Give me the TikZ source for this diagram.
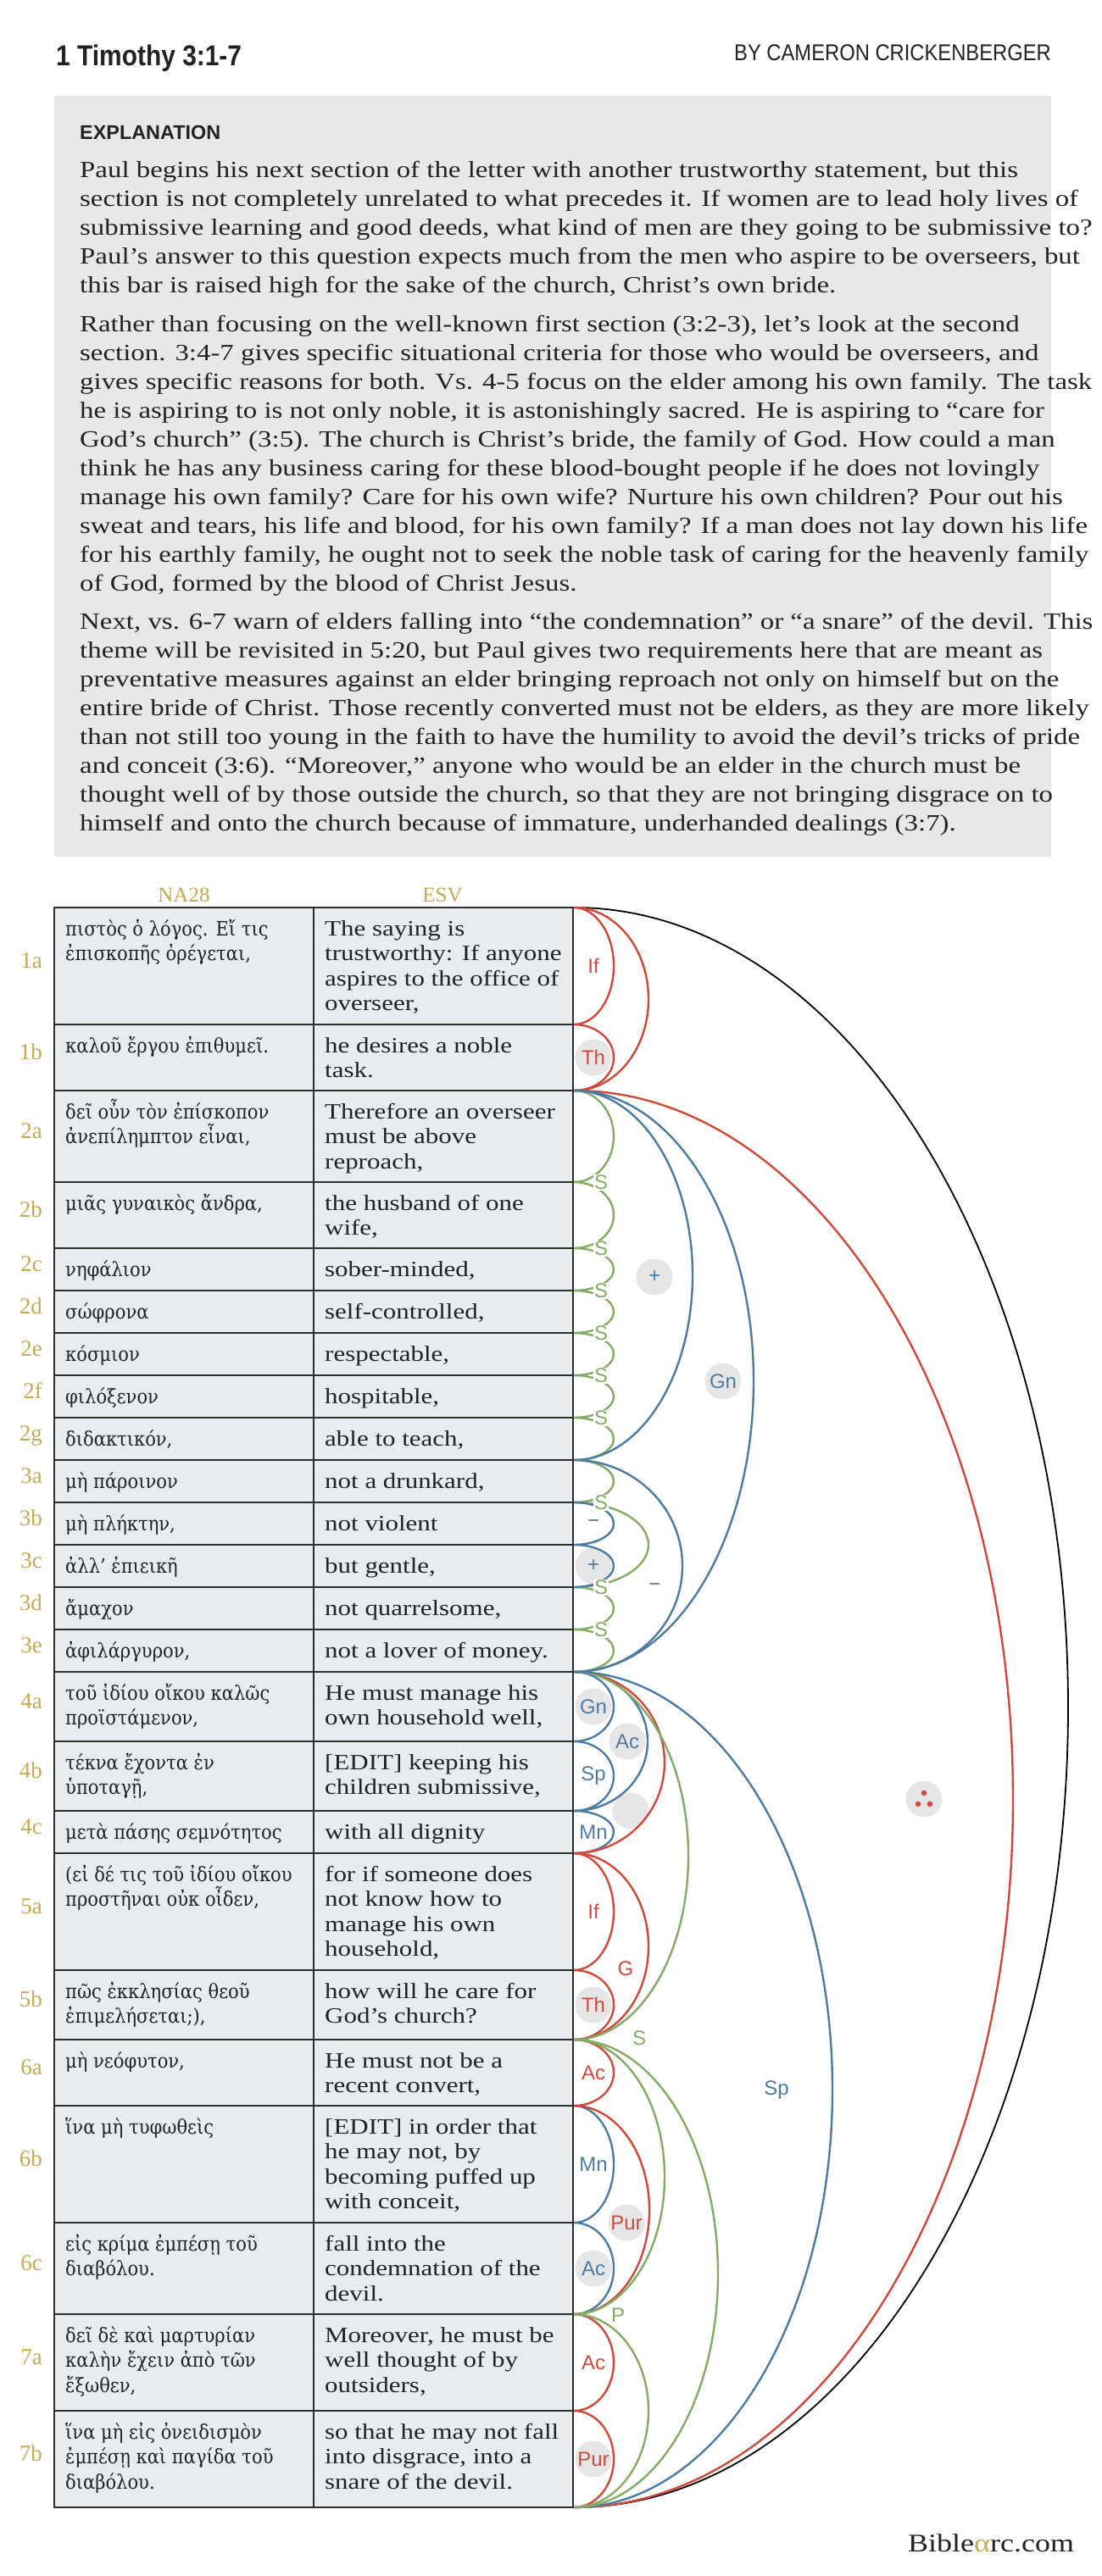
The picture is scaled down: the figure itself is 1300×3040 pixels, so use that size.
\documentclass[tikz,border=0pt]{standalone}
\usepackage{fontspec}
\setmainfont{Liberation Serif}[FakeStretch=1.2]
\newfontfamily\vfont{Liberation Serif}
\newfontfamily\grk{DejaVu Serif}[FakeStretch=0.9]
\newfontfamily\sansf{Liberation Sans}
\newfontfamily\headsans{Liberation Sans}[FakeStretch=0.88]
\usetikzlibrary{calc}
\definecolor{arcred}{RGB}{206,74,60}
\definecolor{arcblue}{RGB}{78,124,160}
\definecolor{arcgreen}{RGB}{132,172,102}
\definecolor{gold}{RGB}{196,170,84}
\definecolor{boxgray}{RGB}{232,232,232}
\definecolor{cellfill}{RGB}{231,236,241}
\definecolor{rulec}{RGB}{45,45,45}
\definecolor{bubble}{RGB}{230,230,230}
\definecolor{txt}{RGB}{34,34,34}
\newcommand{\lines}[1]{\vtop{\halign{##\hfil\cr#1\crcr}}}
\newcommand{\harc}[4]{%
  \draw[#1] let \p1=(#2), \p2=(#3), \n1={(\y2-\y1)/2} in
  (\p1) .. controls ({\x1+0.5523*#4},{\y1}) and ({\x1+#4},{\y1+0.4477*\n1}) .. ({\x1+#4},{\y1+\n1})
        .. controls ({\x1+#4},{\y1+1.5523*\n1}) and ({\x1+0.5523*#4},{\y2}) .. (\p2);}
\newcommand{\trow}[6]{%
  \node[verse] (v#1) at (50,{(#2+#3)/2}) {#4};
  \node[grk] (g#1) at (77,#2+33) {\lines{#5}};
  \node[eng] (e#1) at (383,#2+33) {\lines{#6}};
  \draw[tabrule] (64,#3) -- (676,#3);}
\tikzset{
  arcR/.style={draw=arcred, line width=2.4pt},
  arcB/.style={draw=arcblue, line width=2.4pt},
  arcG/.style={draw=arcgreen, line width=2.4pt},
  arcK/.style={draw=black, line width=1.8pt},
  lab/.style={inner sep=0pt, font=\sansf\fontsize{24}{24}\selectfont},
  slab/.style={lab, text=arcgreen, fill=white, inner sep=1pt},
  verse/.style={anchor=mid east, inner sep=0pt, text=gold, font=\vfont\fontsize{27}{27}\selectfont},
  grk/.style={anchor=base west, inner sep=0pt, text=txt, font=\grk\fontsize{23.4}{29.5}\selectfont},
  eng/.style={anchor=base west, inner sep=0pt, text=txt, font=\fontsize{25.8}{29.5}\selectfont},
  para/.style={anchor=base west, inner sep=0pt, text=txt, font=\fontsize{27.4}{34}\selectfont},
  tabrule/.style={draw=rulec, line width=2.5pt},
  colhead/.style={anchor=base, inner sep=0pt, text=gold, font=\vfont\fontsize{25}{25}\selectfont},
}
\begin{document}
\begin{tikzpicture}[x=1pt,y=-1pt]
\useasboundingbox (0,0) rectangle (1300,3040);
\fill[white] (0,0) rectangle (1300,3040);
% header
\node[anchor=base west, inner sep=0pt, text=txt, font=\headsans\bfseries\fontsize{34}{34}\selectfont] (title) at (66,78) {1 Timothy 3:1-7};
\node[anchor=base east, inner sep=0pt, text=txt, font=\headsans\fontsize{27}{27}\selectfont] (byline) at (1240,72) {BY CAMERON CRICKENBERGER};
% explanation box
\fill[boxgray] (64,113) rectangle (1240,1011);
\node[anchor=base west, inner sep=0pt, text=txt, font=\sansf\bfseries\fontsize{23.4}{23.4}\selectfont] (exh) at (94,165) {EXPLANATION};
\node[para] (p1) at (94,210) {\lines{%
Paul begins his next section of the letter with another trustworthy statement, but this\cr
section is not completely unrelated to what precedes it. If women are to lead holy lives of\cr
submissive learning and good deeds, what kind of men are they going to be submissive to?\cr
Paul’s answer to this question expects much from the men who aspire to be overseers, but\cr
this bar is raised high for the sake of the church, Christ’s own bride.}};
\node[para] (p2) at (94,391) {\lines{%
Rather than focusing on the well-known first section (3:2-3), let’s look at the second\cr
section. 3:4-7 gives specific situational criteria for those who would be overseers, and\cr
gives specific reasons for both. Vs. 4-5 focus on the elder among his own family. The task\cr
he is aspiring to is not only noble, it is astonishingly sacred. He is aspiring to “care for\cr
God’s church” (3:5). The church is Christ’s bride, the family of God. How could a man\cr
think he has any business caring for these blood-bought people if he does not lovingly\cr
manage his own family? Care for his own wife? Nurture his own children? Pour out his\cr
sweat and tears, his life and blood, for his own family? If a man does not lay down his life\cr
for his earthly family, he ought not to seek the noble task of caring for the heavenly family\cr
of God, formed by the blood of Christ Jesus.}};
\node[para] (p3) at (94,742) {\lines{%
Next, vs. 6-7 warn of elders falling into “the condemnation” or “a snare” of the devil. This\cr
theme will be revisited in 5:20, but Paul gives two requirements here that are meant as\cr
preventative measures against an elder bringing reproach not only on himself but on the\cr
entire bride of Christ. Those recently converted must not be elders, as they are more likely\cr
than not still too young in the faith to have the humility to avoid the devil’s tricks of pride\cr
and conceit (3:6). “Moreover,” anyone who would be an elder in the church must be\cr
thought well of by those outside the church, so that they are not bringing disgrace on to\cr
himself and onto the church because of immature, underhanded dealings (3:7).}};
% table headers
\node[colhead] (hna) at (217,1064) {NA28};
\node[colhead] (hesv) at (522,1064) {ESV};
% table
\fill[cellfill] (64,1071) rectangle (676,2959);
\trow{1a}{1071}{1209}{1a}{πιστὸς ὁ λόγος. Εἴ τις\cr ἐπισκοπῆς ὀρέγεται,}{The saying is\cr trustworthy: If anyone\cr aspires to the office of\cr overseer,}
\trow{1b}{1209}{1287}{1b}{καλοῦ ἔργου ἐπιθυμεῖ.}{he desires a noble\cr task.}
\trow{2a}{1287}{1395}{2a}{δεῖ οὖν τὸν ἐπίσκοπον\cr ἀνεπίλημπτον εἶναι,}{Therefore an overseer\cr must be above\cr reproach,}
\trow{2b}{1395}{1473}{2b}{μιᾶς γυναικὸς ἄνδρα,}{the husband of one\cr wife,}
\trow{2c}{1473}{1523}{2c}{νηφάλιον}{sober-minded,}
\trow{2d}{1523}{1573}{2d}{σώφρονα}{self-controlled,}
\trow{2e}{1573}{1623}{2e}{κόσμιον}{respectable,}
\trow{2f}{1623}{1673}{2f}{φιλόξενον}{hospitable,}
\trow{2g}{1673}{1723}{2g}{διδακτικόν,}{able to teach,}
\trow{3a}{1723}{1773}{3a}{μὴ πάροινον}{not a drunkard,}
\trow{3b}{1773}{1823}{3b}{μὴ πλήκτην,}{not violent}
\trow{3c}{1823}{1873}{3c}{ἀλλ’ ἐπιεικῆ}{but gentle,}
\trow{3d}{1873}{1923}{3d}{ἄμαχον}{not quarrelsome,}
\trow{3e}{1923}{1973}{3e}{ἀφιλάργυρον,}{not a lover of money.}
\trow{4a}{1973}{2055}{4a}{τοῦ ἰδίου οἴκου καλῶς\cr προϊστάμενον,}{He must manage his\cr own household well,}
\trow{4b}{2055}{2137}{4b}{τέκνα ἔχοντα ἐν\cr ὑποταγῇ,}{[EDIT] keeping his\cr children submissive,}
\trow{4c}{2137}{2187}{4c}{μετὰ πάσης σεμνότητος}{with all dignity}
\trow{5a}{2187}{2325}{5a}{(εἰ δέ τις τοῦ ἰδίου οἴκου\cr προστῆναι οὐκ οἶδεν,}{for if someone does\cr not know how to\cr manage his own\cr household,}
\trow{5b}{2325}{2407}{5b}{πῶς ἐκκλησίας θεοῦ\cr ἐπιμελήσεται;),}{how will he care for\cr God’s church?}
\trow{6a}{2407}{2485}{6a}{μὴ νεόφυτον,}{He must not be a\cr recent convert,}
\trow{6b}{2485}{2623}{6b}{ἵνα μὴ τυφωθεὶς}{[EDIT] in order that\cr he may not, by\cr becoming puffed up\cr with conceit,}
\trow{6c}{2623}{2731}{6c}{εἰς κρίμα ἐμπέσῃ τοῦ\cr διαβόλου.}{fall into the\cr condemnation of the\cr devil.}
\trow{7a}{2731}{2845}{7a}{δεῖ δὲ καὶ μαρτυρίαν\cr καλὴν ἔχειν ἀπὸ τῶν\cr ἔξωθεν,}{Moreover, he must be\cr well thought of by\cr outsiders,}
\trow{7b}{2845}{2959}{7b}{ἵνα μὴ εἰς ὀνειδισμὸν\cr ἐμπέσῃ καὶ παγίδα τοῦ\cr διαβόλου.}{so that he may not fall\cr into disgrace, into a\cr snare of the devil.}
\draw[tabrule] (370,1071) -- (370,2959);
\draw[tabrule] (64,1071) rectangle (676,2959);
% boundary coordinates
\foreach \n/\yy in {0/1071,1/1209,2/1287,3/1395,4/1473,5/1523,6/1573,7/1623,8/1673,9/1723,10/1773,11/1823,12/1873,13/1923,14/1973,15/2055,16/2137,17/2187,18/2325,19/2407,20/2485,21/2623,22/2731,23/2845,24/2959}
  \coordinate (b\n) at (677,\yy);
% bubbles
\foreach \bx/\by in {700/1248,772/1507,853/1630,700/1848,700/2014,740/2055,744/2137,1090/2123,700/2366,739/2623,700/2677,700/2902}
  \fill[bubble] (\bx,\by) circle[radius=21.5pt];
% arcs
\harc{arcK}{b0}{b24}{583}
\harc{arcR}{b0}{b1}{47}
\harc{arcR}{b1}{b2}{47}
\harc{arcR}{b0}{b2}{88}
\harc{arcR}{b2}{b24}{518}
\harc{arcG}{b2}{b3}{47}
\harc{arcG}{b3}{b4}{47}
\harc{arcG}{b4}{b5}{47}
\harc{arcG}{b5}{b6}{47}
\harc{arcG}{b6}{b7}{47}
\harc{arcG}{b7}{b8}{47}
\harc{arcG}{b8}{b9}{47}
\harc{arcB}{b2}{b9}{140}
\harc{arcB}{b2}{b14}{212}
\harc{arcG}{b9}{b10}{47}
\harc{arcG}{b10}{b12}{88}
\harc{arcG}{b12}{b13}{47}
\harc{arcG}{b13}{b14}{47}
\harc{arcB}{b10}{b11}{47}
\harc{arcB}{b11}{b12}{47}
\harc{arcB}{b9}{b14}{128}
\harc{arcB}{b14}{b15}{47}
\harc{arcB}{b15}{b16}{47}
\harc{arcB}{b14}{b16}{87}
\harc{arcB}{b16}{b17}{47}
\harc{arcR}{b14}{b17}{107}
\harc{arcR}{b17}{b18}{47}
\harc{arcR}{b18}{b19}{47}
\harc{arcR}{b17}{b19}{88}
\harc{arcG}{b14}{b19}{135}
\harc{arcB}{b14}{b24}{305}
\harc{arcR}{b19}{b20}{47}
\harc{arcB}{b20}{b21}{47}
\harc{arcB}{b21}{b22}{47}
\harc{arcR}{b20}{b22}{89}
\harc{arcG}{b19}{b22}{107}
\harc{arcR}{b22}{b23}{47}
\harc{arcR}{b23}{b24}{47}
\harc{arcG}{b22}{b24}{88}
\harc{arcG}{b19}{b24}{170}
% therefore dots
\fill[arcred] (1090,2116) circle[radius=3.3pt];
\fill[arcred] (1083,2129) circle[radius=3.3pt];
\fill[arcred] (1097,2129) circle[radius=3.3pt];
% labels
\node[lab, text=arcred] (lIf1) at (700,1140) {If};
\node[lab, text=arcred] (lTh1) at (700,1248) {Th};
\node[lab, text=arcblue] (lPl1) at (772,1507) {+};
\node[lab, text=arcblue] (lGn1) at (853,1630) {Gn};
\node[lab, text=arcblue] (lMi1) at (700,1798) {−};
\node[lab, text=arcblue] (lPl2) at (700,1848) {+};
\node[lab, text=arcblue] (lMi2) at (772,1873) {−};
\node[lab, text=arcblue] (lGn2) at (700,2014) {Gn};
\node[lab, text=arcblue] (lAc1) at (740,2055) {Ac};
\node[lab, text=arcblue] (lSp1) at (700,2096) {Sp};
\node[lab, text=arcblue] (lMn1) at (700,2162) {Mn};
\node[lab, text=arcred] (lIf2) at (700,2256) {If};
\node[lab, text=arcred] (lG) at (738,2323) {G};
\node[lab, text=arcred] (lTh2) at (700,2366) {Th};
\node[lab, text=arcblue] (lSp2) at (916,2467) {Sp};
\node[lab, text=arcred] (lAc2) at (700,2446) {Ac};
\node[lab, text=arcblue] (lMn2) at (700,2554) {Mn};
\node[lab, text=arcred] (lPur1) at (739,2623) {Pur};
\node[lab, text=arcblue] (lAc3) at (700,2677) {Ac};
\node[lab, text=arcred] (lAc4) at (700,2788) {Ac};
\node[lab, text=arcred] (lPur2) at (700,2902) {Pur};
\foreach \yy in {1395,1473,1523,1573,1623,1673,1773,1873,1923}
  \node[slab] (s\yy) at (709,\yy) {S};
\node[slab] (sB19) at (754,2405) {S};
\node[slab] (pB22) at (729,2732) {P};
% logo
\node[anchor=base west, inner sep=0pt, text=txt, font=\fontsize{30}{30}\selectfont] (logo) at (1071,3011) {Bible\textcolor{gold}{α}rc.com};
\end{tikzpicture}
\end{document}
